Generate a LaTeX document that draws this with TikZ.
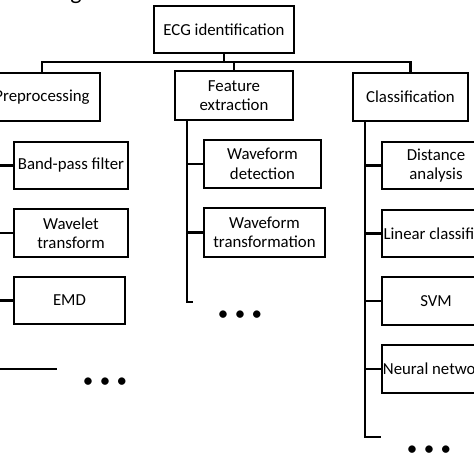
\documentclass[tikz,border=0pt]{standalone}
\usepackage{fontspec}
\setmainfont{Carlito}
\usetikzlibrary{positioning,calc}
\tikzstyle{l1}=[line width=2.9pt]
\tikzstyle{box}=[rectangle, draw=black, l1, align=center, inner sep=0pt, font=\fontsize{16.8}{19.5}\selectfont]
\tikzstyle{dots}=[font=\fontsize{21}{21}\selectfont]
\newcommand{\threedots}{\textbullet\hspace{6.5pt}\textbullet\hspace{6.5pt}\textbullet}

\begin{document}
\begin{tikzpicture}[x=1pt, y=-1pt]
    \useasboundingbox (0,0) rectangle (474,474);
    % cut caption above
    \node[anchor=base, font=\fontsize{24}{24}\selectfont] (cap) at (76,-1) {g};

    \node (root) [box, minimum width=140, minimum height=47] at (224,29.5) {ECG identification};
    \coordinate (bus) at (224,62);

    \node (pre) [box, minimum width=116, minimum height=48] at (42,97) {Preprocessing};
    \node (feat) [box, minimum width=118, minimum height=49] at (234,95.5) {Feature\\extraction};
    \node (cls) [box, minimum width=115, minimum height=48] at (410.5,97) {Classification};

    \draw[l1] (root.south) -- (bus);
    \draw[l1] (pre.north) |- (bus) -| (cls.north);
    \draw[l1] (feat.north) -- (feat.north |- bus);

    % preprocessing
    \node (p1) [box, minimum width=114, minimum height=47] at (71,165.5) {Band-pass filter};
    \node (p2) [box, minimum width=114, minimum height=48] at (71,233) {Wavelet\\transform};
    \node (p3) [box, minimum width=111, minimum height=47] at (69.5,300.5) {EMD};
    \coordinate (ptop) at (-8,121);
    \coordinate (pend) at (57,369);
    \draw[l1] (ptop) -- (ptop |- pend) -- (pend);
    \foreach \n in {p1,p2,p3} \draw[l1] (ptop |- \n.west) -- (\n.west);
    \node (pdots) [dots] at (105,383) {\threedots};

    % feature extraction
    \node (f1) [box, minimum width=117, minimum height=48] at (262.5,164) {Waveform\\detection};
    \node (f2) [box, minimum width=121, minimum height=49] at (264.5,232.5) {Waveform\\transformation};
    \coordinate (ftop) at (187,120);
    \coordinate (fend) at (193,302);
    \draw[l1] (ftop) -- (ftop |- fend) -- (fend);
    \foreach \n in {f1,f2} \draw[l1] (ftop |- \n.west) -- (\n.west);
    \node (fdots) [dots] at (240,316) {\threedots};

    % classification
    \node (c1) [box, minimum width=108, minimum height=47] at (436,165.5) {Distance\\analysis};
    \node (c2) [box, minimum width=108, minimum height=47] at (436,233.5) {Linear classifier};
    \node (c3) [box, minimum width=108, minimum height=48] at (436,301) {SVM};
    \node (c4) [box, minimum width=108, minimum height=48] at (436,369) {Neural network};
    \coordinate (ctop) at (365,121);
    \coordinate (cend) at (381,437);
    \draw[l1] (ctop) -- (ctop |- cend) -- (cend);
    \foreach \n in {c1,c2,c3,c4} \draw[l1] (ctop |- \n.west) -- (\n.west);
    \node (cdots) [dots] at (429,451) {\threedots};
\end{tikzpicture}
\end{document}
